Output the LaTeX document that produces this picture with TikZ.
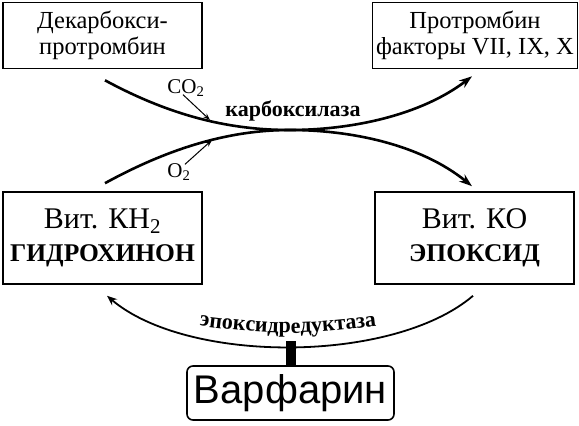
\documentclass[tikz,border=0pt]{standalone}
\usepackage{fontspec}
\setmainfont{Liberation Serif}
\newfontfamily\drugfont{Liberation Sans}
\usetikzlibrary{arrows.meta,decorations.text}
\tikzset{
>={Stealth[length=13pt,width=9pt]}, % arrow heads of the thick curves
box/.style={draw, line width=1.6pt, align=center, inner sep=0pt}, % every framed node
topbox/.style={box, font=\fontsize{24.5}{26}\selectfont, minimum height=66pt},
vitbox/.style={box, font=\fontsize{30}{33}\selectfont, minimum width=199pt, minimum height=92pt},
route/.style={line width=2.6pt}, % the carboxylase curves
gas/.style={font=\fontsize{21}{22}\selectfont, inner sep=0pt},
gasarrow/.style={-{Stealth[length=7pt,width=5pt]}, line width=1pt},
enzyme/.style={font=\fontsize{22}{24}\selectfont\bfseries},
}
\newcommand{\vitname}[1]{{\fontsize{25.5}{33}\selectfont\bfseries #1}}
\begin{document}
\begin{tikzpicture}[x=1pt,y=1pt]
	\useasboundingbox (0,0) rectangle (579,426);
	% the five boxes
	\node[topbox, minimum width=199pt] (dek) at (102.5,390.5) {Декарбокси-\\протромбин};
	\node[topbox, minimum width=205pt] (pro) at (475,390.5) {Протромбин\\факторы VII, IX, X};
	\node[vitbox] (kh) at (102.5,188) {Вит. КН\textsubscript{2}\\\vitname{ГИДРОХИНОН}};
	\node[vitbox] (ko) at (474.5,188) {Вит. КО\\\vitname{ЭПОКСИД}};
	\node[box, rounded corners=6pt, minimum width=207pt, minimum height=54pt,
	      font=\drugfont\fontsize{40}{44}\selectfont] (war) at (290.5,33) {Варфарин};
	% carboxylase crossing
	\coordinate (meet) at (290,296);
	\draw[route, ->] ([xshift=2.5pt,yshift=-11pt]dek.south) .. controls (180,305) and (240,296) .. (meet)
	      .. controls (350,296) and (420,310) .. ([xshift=-3pt,yshift=-7pt]pro.south);
	\draw[route, ->] ([xshift=2.5pt,yshift=8pt]kh.north) .. controls (180,284) and (240,296) .. (meet)
	      .. controls (350,296) and (420,282) .. ([xshift=-2.5pt,yshift=5pt]ko.north);
	\node[enzyme, anchor=base] (carb) at (293,309) {карбоксилаза};
	% CO2 and O2
	\node[gas] (co2) at (186,338) {CO\textsubscript{2}};
	\node[gas] (o2) at (179,254) {O\textsubscript{2}};
	\coordinate (co2tip) at (210,306);
	\coordinate (o2tip) at (212,286);
	\draw[gasarrow] ([xshift=-3pt,yshift=2pt]co2.south) -- (co2tip);
	\draw[gasarrow] ([xshift=6pt,yshift=-1pt]o2.north) -- (o2tip);
	% epoxide reductase
	\draw[line width=1.8pt, -{Stealth[length=10pt,width=8pt]}] ([xshift=-1.5pt,yshift=-11pt]ko.south)
	      .. controls (393,62) and (187,62) .. ([xshift=4.5pt,yshift=-11pt]kh.south);
	\path[decorate, decoration={text along path, text align=center,
	      text={|\fontsize{22}{24}\selectfont\bfseries|эпоксидредуктаза}}]
	      (140,108) .. controls (288,88) .. (436,108);
	\draw[line width=10pt] (war.north) -- ++(0,24pt);
\end{tikzpicture}
\end{document}
